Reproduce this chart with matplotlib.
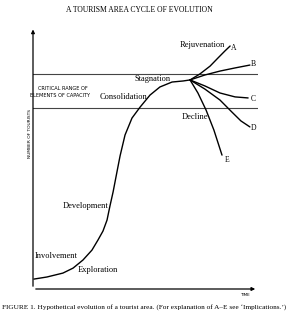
import matplotlib.pyplot as plt

# main curve: time (0-100) vs number of tourists (0-100)
main_t = [0.4, 6.2, 13.3, 17.8, 22.2, 26.2, 28.9, 31.1, 32.9, 34.2, 35.6, 37.3, 38.7,
          40.9, 44.0, 47.6, 52.0, 56.4, 61.8, 66.7, 69.8]
main_n = [3.8, 4.6, 6.1, 8.0, 11.1, 14.9, 18.8, 22.2, 26.4, 31.8, 37.2, 44.8, 51.0,
          59.0, 65.5, 69.7, 74.3, 77.4, 79.3, 79.7, 80.1]

# branches after stagnation
branch_names = ['A', 'B', 'C', 'D', 'E']
branch_t = [
    [69.8, 74.2, 78.7, 82.2, 85.3, 87.6],
    [69.8, 76.4, 83.1, 89.8, 96.4],
    [69.8, 76.4, 83.1, 89.8, 95.6],
    [69.8, 76.4, 83.1, 88.4, 92.4, 96.4],
    [69.8, 73.3, 76.9, 80.4, 84.0],
]
branch_n = [
    [80.1, 82.4, 85.4, 88.5, 91.2, 93.1],
    [80.1, 82.0, 83.5, 84.7, 85.8],
    [80.1, 77.8, 75.1, 73.6, 73.2],
    [80.1, 76.6, 72.4, 67.8, 64.4, 62.1],
    [80.1, 75.1, 68.6, 60.9, 51.3],
]
branch_label_pos = [(88.0, 92.3), (96.9, 86.2), (96.9, 72.8), (96.9, 61.7), (85.3, 49.4)]

# critical range of capacity
capacity_upper = 82.4
capacity_lower = 69.3

stages = ['Exploration', 'Involvement', 'Development', 'Consolidation', 'Stagnation', 'Rejuvenation', 'Decline']
stage_pos = [(20.0, 7.3), (0.9, 12.6), (13.0, 31.8), (29.8, 73.6), (45.3, 80.5), (65.3, 93.4), (66.2, 65.9)]

serif = ['Liberation Serif', 'DejaVu Serif']
narrow = ['Liberation Sans Narrow', 'DejaVu Sans']

fig = plt.figure(figsize=(2.87, 3.2), dpi=100)
ax = fig.add_axes([33 / 287, 31 / 320, 225 / 287, 261 / 320])
ax.set_xlim(0, 100)
ax.set_ylim(0, 100)
ax.axis('off')

# axes with arrows
ax.annotate('', xy=(0, 1.005), xytext=(0, 0), xycoords='axes fraction',
            arrowprops=dict(arrowstyle='-|>', color='black', lw=0.9, mutation_scale=5))
ax.annotate('', xy=(1, 0), xytext=(0, 0), xycoords='axes fraction',
            arrowprops=dict(arrowstyle='-|>', color='black', lw=0.9, mutation_scale=5))

ax.axhline(capacity_upper, xmin=0, xmax=1, color='#444444', lw=0.8)
ax.axhline(capacity_lower, xmin=0, xmax=1, color='#444444', lw=0.8)

ax.plot(main_t, main_n, color='black', lw=1.0, solid_capstyle='round', solid_joinstyle='round')
for t, n in zip(branch_t, branch_n):
    ax.plot(t, n, color='black', lw=1.0, solid_capstyle='round', solid_joinstyle='round')

for name, (x, y) in zip(branch_names, branch_label_pos):
    ax.text(x, y, name, fontsize=5.5, family=serif, ha='left', va='center')

for name, (x, y) in zip(stages, stage_pos):
    ax.text(x, y, name, fontsize=6, family=serif, ha='left', va='center')

ax.text(13.3, 77.0, 'CRITICAL RANGE OF', fontsize=3.6, family=narrow, ha='center', va='center')
ax.text(12.0, 74.3, 'ELEMENTS OF CAPACITY', fontsize=3.6, family=narrow, ha='center', va='center')

ax.text(94.2, -1.5, 'TIME', fontsize=3, family=narrow, ha='center', va='top', clip_on=False)
fig.text(30 / 287, 1 - 133 / 320, 'NUMBER OF TOURISTS', fontsize=3.2, family=narrow,
         rotation=90, ha='center', va='center')

fig.text(139 / 287, 1 - 10 / 320, 'A TOURISM AREA CYCLE OF EVOLUTION', fontsize=5.5,
         family=serif, ha='center', va='center')
fig.text(144 / 287, 1 - 308 / 320,
         'FIGURE 1. Hypothetical evolution of a tourist area. (For explanation of A\u2013E see \u2018Implications.\u2019)',
         fontsize=5.2, family=serif, ha='center', va='center')

fig.savefig('out.png', dpi=100)
